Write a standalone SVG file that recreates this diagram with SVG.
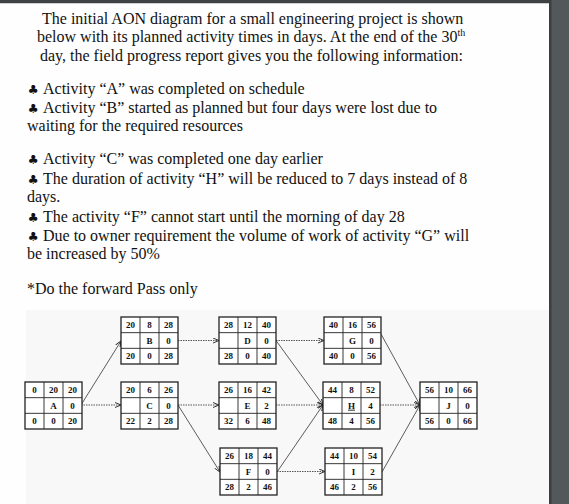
<svg xmlns="http://www.w3.org/2000/svg" width="569" height="504" viewBox="0 0 569 504">
<style>
.p{font-family:"Liberation Serif","Times New Roman",serif;font-size:16px;fill:#111}
.sup{font-size:10px}
.club{font-family:"DejaVu Sans",sans-serif;font-size:12.5px;fill:#111}
.box{fill:#fff;stroke:#222;stroke-width:1.3}
.grid{stroke:#222;stroke-width:0.9;fill:none}
.n{font-family:"Liberation Serif","Times New Roman",serif;font-size:9px;font-weight:bold;fill:#111;text-anchor:middle}
.solid{stroke:#333;stroke-width:0.8;fill:none;marker-end:url(#ah)}
.dot{stroke:#555;stroke-width:1;stroke-dasharray:1.5 1;fill:none;marker-end:url(#ah)}
</style>
<defs>
<marker id="ah" markerUnits="userSpaceOnUse" markerWidth="7" markerHeight="6" refX="6" refY="3" orient="auto">
<path d="M0,0.5 L6,3 L0,5.5" fill="none" stroke="#222" stroke-width="0.9"/>
</marker>
<g id="cells">
<rect class="box" x="0" y="0" width="57" height="47"/>
<path class="grid" d="M19,0V47M38,0V47M0,15.67H57M0,31.33H57"/>
</g>
</defs>
<rect x="0" y="0" width="569" height="504" fill="#fefefe"/>
<rect x="0" y="0" width="569" height="3" fill="#3f4245"/>
<rect x="0" y="3" width="549" height="1" fill="#cfcfcf"/>
<rect x="549" y="0" width="20" height="504" fill="#53585b"/>
<rect x="549" y="0" width="2.5" height="504" fill="#3c3e40"/>
<rect x="26" y="310" width="523" height="194" fill="#f8f8f8"/>

<g id="intro">
<text class="p" x="42" y="24">The initial AON diagram for a small engineering project is shown</text>
<text class="p" x="37" y="42">below with its planned activity times in days. At the end of the 30<tspan class="sup" dy="-6">th</tspan></text>
<text class="p" x="40" y="61">day, the field progress report gives you the following information:</text>
</g>
<g id="bullets">
<text class="club" x="27.5" y="93.5">♣</text><text class="p" x="43" y="93.5">Activity “A” was completed on schedule</text>
<text class="club" x="27.5" y="112.5">♣</text><text class="p" x="43" y="112.5">Activity “B” started as planned but four days were lost due to</text>
<text class="p" x="27" y="131">waiting for the required resources</text>
<text class="club" x="27.5" y="164">♣</text><text class="p" x="43" y="164">Activity “C” was completed one day earlier</text>
<text class="club" x="27.5" y="183.5">♣</text><text class="p" x="43" y="183.5">The duration of activity “H” will be reduced to 7 days instead of 8</text>
<text class="p" x="27" y="202">days.</text>
<text class="club" x="27.5" y="221.5">♣</text><text class="p" x="43" y="221.5">The activity “F” cannot start until the morning of day 28</text>
<text class="club" x="27.5" y="240.5">♣</text><text class="p" x="43" y="240.5">Due to owner requirement the volume of work of activity “G” will</text>
<text class="p" x="27" y="259">be increased by 50%</text>
<text class="p" x="27" y="293.5">*Do the forward Pass only</text>
</g>

<g id="connectors">
<line class="solid" x1="81" y1="405" x2="121" y2="341"/>
<line class="dot" x1="81" y1="405" x2="121" y2="405"/>
<line class="dot" x1="178" y1="340.5" x2="219" y2="340.5"/>
<line class="dot" x1="178" y1="405" x2="219" y2="405"/>
<line class="solid" x1="178" y1="405" x2="220" y2="472"/>
<line class="dot" x1="276" y1="340.5" x2="324" y2="340.5"/>
<line class="solid" x1="276" y1="340.5" x2="323" y2="405"/>
<line class="dot" x1="276" y1="405" x2="323" y2="405"/>
<line class="solid" x1="277" y1="472" x2="323" y2="405"/>
<line class="dot" x1="277" y1="471.5" x2="325" y2="471.5"/>
<line class="solid" x1="381" y1="334" x2="420" y2="405"/>
<line class="dot" x1="380" y1="405" x2="420" y2="405"/>
<line class="solid" x1="382" y1="472" x2="420" y2="405"/>
</g>

<g id="node-A" transform="translate(25,382)"><use href="#cells"/>
<text class="n" x="9.5" y="11">0</text><text class="n" x="28.5" y="11">20</text><text class="n" x="47.5" y="11">20</text>
<text class="n" x="28.5" y="26.7">A</text><text class="n" x="47.5" y="26.7">0</text>
<text class="n" x="9.5" y="42.3">0</text><text class="n" x="28.5" y="42.3">0</text><text class="n" x="47.5" y="42.3">20</text></g>

<g id="node-B" transform="translate(121,317)"><use href="#cells"/>
<text class="n" x="9.5" y="11">20</text><text class="n" x="28.5" y="11">8</text><text class="n" x="47.5" y="11">28</text>
<text class="n" x="28.5" y="26.7">B</text><text class="n" x="47.5" y="26.7">0</text>
<text class="n" x="9.5" y="42.3">20</text><text class="n" x="28.5" y="42.3">0</text><text class="n" x="47.5" y="42.3">28</text></g>

<g id="node-C" transform="translate(121,382)"><use href="#cells"/>
<text class="n" x="9.5" y="11">20</text><text class="n" x="28.5" y="11">6</text><text class="n" x="47.5" y="11">26</text>
<text class="n" x="28.5" y="26.7">C</text><text class="n" x="47.5" y="26.7">0</text>
<text class="n" x="9.5" y="42.3">22</text><text class="n" x="28.5" y="42.3">2</text><text class="n" x="47.5" y="42.3">28</text></g>

<g id="node-D" transform="translate(219,317)"><use href="#cells"/>
<text class="n" x="9.5" y="11">28</text><text class="n" x="28.5" y="11">12</text><text class="n" x="47.5" y="11">40</text>
<text class="n" x="28.5" y="26.7">D</text><text class="n" x="47.5" y="26.7">0</text>
<text class="n" x="9.5" y="42.3">28</text><text class="n" x="28.5" y="42.3">0</text><text class="n" x="47.5" y="42.3">40</text></g>

<g id="node-E" transform="translate(219,382)"><use href="#cells"/>
<text class="n" x="9.5" y="11">26</text><text class="n" x="28.5" y="11">16</text><text class="n" x="47.5" y="11">42</text>
<text class="n" x="28.5" y="26.7">E</text><text class="n" x="47.5" y="26.7">2</text>
<text class="n" x="9.5" y="42.3">32</text><text class="n" x="28.5" y="42.3">6</text><text class="n" x="47.5" y="42.3">48</text></g>

<g id="node-F" transform="translate(220,448)"><use href="#cells"/>
<text class="n" x="9.5" y="11">26</text><text class="n" x="28.5" y="11">18</text><text class="n" x="47.5" y="11">44</text>
<text class="n" x="28.5" y="26.7">F</text><text class="n" x="47.5" y="26.7">0</text>
<text class="n" x="9.5" y="42.3">28</text><text class="n" x="28.5" y="42.3">2</text><text class="n" x="47.5" y="42.3">46</text></g>

<g id="node-G" transform="translate(324,317)"><use href="#cells"/>
<text class="n" x="9.5" y="11">40</text><text class="n" x="28.5" y="11">16</text><text class="n" x="47.5" y="11">56</text>
<text class="n" x="28.5" y="26.7">G</text><text class="n" x="47.5" y="26.7">0</text>
<text class="n" x="9.5" y="42.3">40</text><text class="n" x="28.5" y="42.3">0</text><text class="n" x="47.5" y="42.3">56</text></g>

<g id="node-H" transform="translate(323,382)"><use href="#cells"/>
<text class="n" x="9.5" y="11">44</text><text class="n" x="28.5" y="11">8</text><text class="n" x="47.5" y="11">52</text>
<text class="n" x="28.5" y="26.7" text-decoration="underline">H</text><text class="n" x="47.5" y="26.7">4</text>
<text class="n" x="9.5" y="42.3">48</text><text class="n" x="28.5" y="42.3">4</text><text class="n" x="47.5" y="42.3">56</text></g>

<g id="node-I" transform="translate(325,448)"><use href="#cells"/>
<text class="n" x="9.5" y="11">44</text><text class="n" x="28.5" y="11">10</text><text class="n" x="47.5" y="11">54</text>
<text class="n" x="28.5" y="26.7">I</text><text class="n" x="47.5" y="26.7">2</text>
<text class="n" x="9.5" y="42.3">46</text><text class="n" x="28.5" y="42.3">2</text><text class="n" x="47.5" y="42.3">56</text></g>

<g id="node-J" transform="translate(420,382)"><use href="#cells"/>
<text class="n" x="9.5" y="11">56</text><text class="n" x="28.5" y="11">10</text><text class="n" x="47.5" y="11">66</text>
<text class="n" x="28.5" y="26.7">J</text><text class="n" x="47.5" y="26.7">0</text>
<text class="n" x="9.5" y="42.3">56</text><text class="n" x="28.5" y="42.3">0</text><text class="n" x="47.5" y="42.3">66</text></g>
</svg>
